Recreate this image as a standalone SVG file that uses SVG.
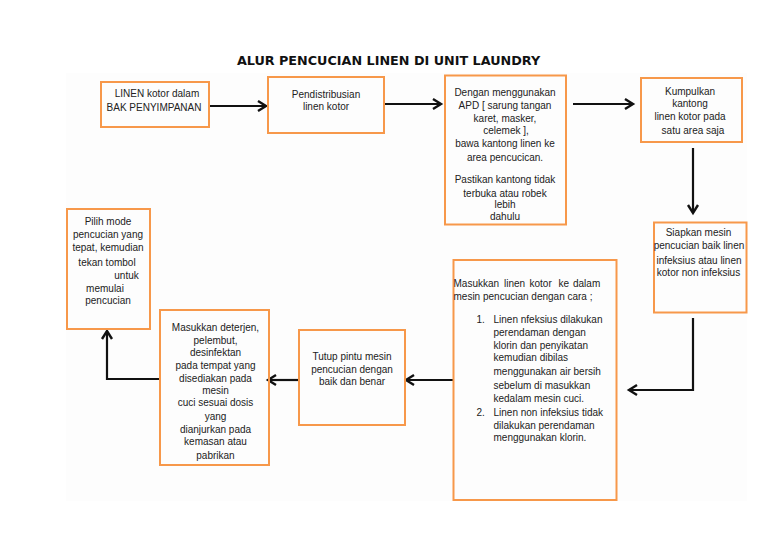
<svg xmlns="http://www.w3.org/2000/svg" width="768" height="543" viewBox="0 0 768 543">
<defs>
<style>
.box{fill:none;stroke:#f7984a;stroke-width:2}
.t{font-family:"Liberation Sans",Arial,sans-serif;font-size:10px;fill:#222}
.c{text-anchor:middle}
.title{font-family:"DejaVu Sans",sans-serif;font-weight:bold;font-size:12.75px;fill:#111;text-anchor:middle}
.ln{fill:none;stroke:#111;stroke-width:2.2}
</style>
<marker id="ah" markerUnits="userSpaceOnUse" markerWidth="14" markerHeight="14" refX="10" refY="6" orient="auto" viewBox="0 0 14 12">
<path d="M2,1 L10,6 L2,11" fill="none" stroke="#111" stroke-width="2.4"/>
</marker>
</defs>
<rect width="768" height="543" fill="#fff"/>
<rect x="66" y="73" width="681" height="428" fill="#fdfdfd"/>
<text class="title" x="388.5" y="65.3">ALUR PENCUCIAN LINEN DI UNIT LAUNDRY</text>

<g id="connectors">
<path class="ln" d="M209,106 H266" marker-end="url(#ah)"/>
<path class="ln" d="M385,104 H441" marker-end="url(#ah)"/>
<path class="ln" d="M573,104 H633" marker-end="url(#ah)"/>
<path class="ln" d="M693,148 V213" marker-end="url(#ah)"/>
<path class="ln" d="M693,318 V390 H629" marker-end="url(#ah)"/>
<path class="ln" d="M453,380 H406" marker-end="url(#ah)"/>
<path class="ln" d="M299,380 H268" marker-end="url(#ah)"/>
<path class="ln" d="M159,379 H107 V331" marker-end="url(#ah)"/>
</g>

<g id="n1">
<rect class="box" x="101" y="82" width="108" height="45"/>
<text class="t c" x="157" y="96.5">LINEN kotor dalam</text>
<text class="t c" x="154" y="110.5">BAK PENYIMPANAN</text>
</g>

<g id="n2">
<rect class="box" x="268" y="77" width="116" height="56"/>
<text class="t c" x="326" y="97.5">Pendistribusian</text>
<text class="t c" x="326" y="109.5">linen kotor</text>
</g>

<g id="n3">
<rect class="box" x="445" y="75.5" width="121" height="149"/>
<text class="t c" x="505" y="96">Dengan menggunakan</text>
<text class="t c" x="505" y="108.5">APD [ sarung tangan</text>
<text class="t c" x="505" y="122">karet, masker,</text>
<text class="t c" x="506" y="133.5">celemek ],</text>
<text class="t c" x="505" y="147">bawa kantong linen ke</text>
<text class="t c" x="505" y="160.5">area pencucican.</text>
<text class="t c" x="505" y="182.5">Pastikan kantong tidak</text>
<text class="t c" x="505" y="196.5">terbuka atau robek</text>
<text class="t c" x="505" y="208">lebih</text>
<text class="t c" x="505" y="220">dahulu</text>
</g>

<g id="n4">
<rect class="box" x="641" y="78" width="101" height="64"/>
<text class="t c" x="690" y="95">Kumpulkan</text>
<text class="t c" x="690" y="107">kantong</text>
<text class="t c" x="690" y="119.5">linen kotor pada</text>
<text class="t c" x="693" y="133.5">satu area saja</text>
</g>

<g id="n5">
<rect class="box" x="654" y="222.5" width="92.5" height="90"/>
<text class="t c" x="698.5" y="236">Siapkan mesin</text>
<text class="t c" x="699" y="249">pencucian baik linen</text>
<text class="t c" x="699" y="263.5">infeksius atau linen</text>
<text class="t c" x="698.5" y="276">kotor non infeksius</text>
</g>

<g id="n6">
<rect class="box" x="453.5" y="260" width="163" height="240"/>
<text class="t" y="287"><tspan x="453.5">Masukkan</tspan><tspan x="504">linen</tspan><tspan x="529.5">kotor</tspan><tspan x="558.5">ke</tspan><tspan x="573">dalam</tspan></text>
<text class="t" x="453.5" y="300">mesin pencucian dengan cara ;</text>
<text class="t" x="476.5" y="322.5">1.</text>
<text class="t" x="493.5" y="322.5">Linen nfeksius dilakukan</text>
<text class="t" x="493.5" y="336">perendaman dengan</text>
<text class="t" x="493.5" y="349">klorin dan penyikatan</text>
<text class="t" x="493.5" y="361">kemudian dibilas</text>
<text class="t" x="493.5" y="375">menggunakan air bersih</text>
<text class="t" x="493.5" y="388.5">sebelum di masukkan</text>
<text class="t" x="493.5" y="402">kedalam mesin cuci.</text>
<text class="t" x="476.5" y="416">2.</text>
<text class="t" x="493.5" y="416">Linen non infeksius tidak</text>
<text class="t" x="493.5" y="428.5">dilakukan perendaman</text>
<text class="t" x="493.5" y="441">menggunakan klorin.</text>
</g>

<g id="n7">
<rect class="box" x="299" y="330" width="106" height="95"/>
<text class="t c" x="352" y="359.5">Tutup pintu mesin</text>
<text class="t c" x="352" y="372.5">pencucian dengan</text>
<text class="t c" x="352" y="385">baik dan benar</text>
</g>

<g id="n8">
<rect class="box" x="160" y="310" width="109" height="155"/>
<text class="t c" x="215.5" y="330.5">Masukkan deterjen,</text>
<text class="t c" x="215.5" y="343.5">pelembut,</text>
<text class="t c" x="215.5" y="356">desinfektan</text>
<text class="t c" x="215.5" y="369">pada tempat yang</text>
<text class="t c" x="215.5" y="382">disediakan pada</text>
<text class="t c" x="215.5" y="394">mesin</text>
<text class="t c" x="215.5" y="406">cuci sesuai dosis</text>
<text class="t c" x="215.5" y="419.5">yang</text>
<text class="t c" x="215.5" y="433">dianjurkan pada</text>
<text class="t c" x="215.5" y="445">kemasan atau</text>
<text class="t c" x="215.5" y="458.5">pabrikan</text>
</g>

<g id="n9">
<rect class="box" x="67" y="209" width="83" height="120"/>
<text class="t c" x="108" y="225">Pilih mode</text>
<text class="t c" x="108" y="238">pencucian yang</text>
<text class="t c" x="108" y="251">tepat, kemudian</text>
<text class="t c" x="107" y="265.5">tekan tombol</text>
<text class="t c" x="126.5" y="278.5">untuk</text>
<text class="t c" x="105" y="292">memulai</text>
<text class="t c" x="108" y="303.5">pencucian</text>
</g>
</svg>
